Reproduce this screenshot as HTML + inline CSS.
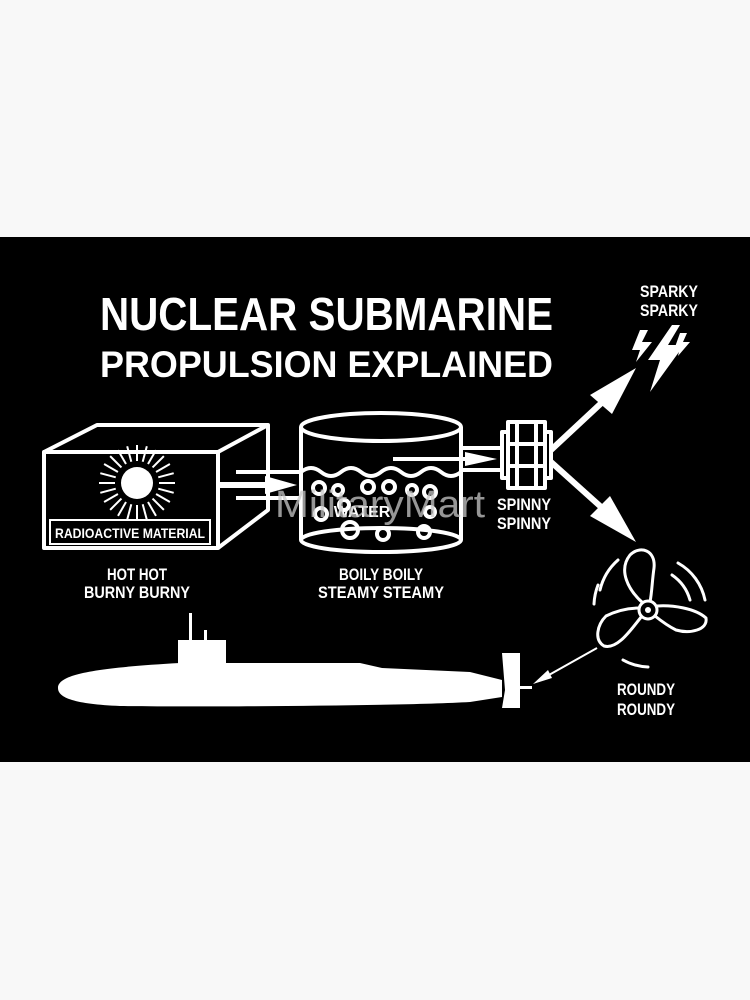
<!DOCTYPE html>
<html><head><meta charset="utf-8"><style>
html,body{margin:0;padding:0;background:#f8f8f8;width:750px;height:1000px;overflow:hidden}
svg{display:block}
text{font-family:"Liberation Sans Narrow","Liberation Sans",sans-serif;font-weight:bold;fill:#fff}
</style></head><body>
<svg width="750" height="1000" viewBox="0 0 750 1000">
<rect x="0" y="237" width="750" height="525" fill="#000"/>
<text x="100" y="330" font-size="46" textLength="453" lengthAdjust="spacingAndGlyphs">NUCLEAR SUBMARINE</text>
<text x="100" y="377" font-size="37" textLength="453" lengthAdjust="spacingAndGlyphs">PROPULSION EXPLAINED</text>
<g fill="none" stroke="#fff" stroke-width="4" stroke-linejoin="round">
<rect x="44" y="452" width="174" height="96"/>
<polyline points="44,452 97,425 268,425 218,452"/>
<polyline points="268,425 268,510 218,548"/>
<path d="M236,472 H302 M236,498 H302"/>
<ellipse cx="381" cy="427" rx="80" ry="14"/>
<path d="M301,427 V540 A80,12 0 0 0 461,540 V427"/>
<path d="M301,472 q10,-8 20,0 t20,0 t20,0 t20,0 t20,0 t20,0 t20,0 t20,0"/>
<path d="M301,540 A80,12 0 0 1 461,540"/>
<path d="M461,448 H502 M461,470 H502"/>
<rect x="508" y="422" width="37" height="66"/>
<rect x="502" y="432" width="6" height="46"/>
<rect x="545" y="432" width="6" height="46"/>
<path d="M517,422 V488 M536,422 V488 M508,444 H545 M508,466 H545"/>
<g stroke-width="4">
<circle cx="319" cy="488" r="6"/><circle cx="338" cy="490" r="5"/><circle cx="368" cy="487" r="6"/><circle cx="389" cy="487" r="6"/><circle cx="412" cy="490" r="5"/><circle cx="430" cy="492" r="6"/>
<circle cx="321" cy="514" r="6"/><circle cx="344" cy="505" r="5"/><circle cx="430" cy="512" r="5"/><circle cx="350" cy="530" r="8"/><circle cx="383" cy="534" r="6"/><circle cx="424" cy="532" r="6"/>
</g>
<g stroke-width="3" stroke-linecap="round">
<path d="M600,590 A58,58 0 0 1 618,560"/>
<path d="M594,604 A60,60 0 0 1 598,585"/>
<path d="M678,563 A55,55 0 0 1 705,600"/>
<path d="M672,575 A45,45 0 0 1 690,600"/>
<path d="M623,660 A55,55 0 0 0 648,667"/>
</g>
<g stroke-width="3">
<path d="M643,603 C628,590 618,570 630,555 C640,545 656,550 654,568 C652,582 652,592 650,602"/>
<path d="M657,606 C672,605 695,608 706,618 C708,630 690,634 676,630 C668,626 660,620 655,616"/>
<path d="M642,616 C632,628 618,650 604,646 C594,640 597,625 606,616 C618,610 630,608 640,608"/>
<circle cx="648" cy="610" r="9"/>
</g>
</g>
<circle cx="648" cy="610" r="3" fill="#fff"/>
<g transform="translate(137,483)" stroke="#fff" stroke-width="2">
<line x1="0" y1="-22" x2="0" y2="-38"/><line x1="0" y1="22" x2="0" y2="38"/>
<line x1="22" y1="0" x2="38" y2="0"/><line x1="-22" y1="0" x2="-38" y2="0"/>
<g transform="rotate(15)"><line x1="0" y1="-22" x2="0" y2="-38"/><line x1="0" y1="22" x2="0" y2="38"/><line x1="22" y1="0" x2="38" y2="0"/><line x1="-22" y1="0" x2="-38" y2="0"/></g>
<g transform="rotate(30)"><line x1="0" y1="-22" x2="0" y2="-38"/><line x1="0" y1="22" x2="0" y2="38"/><line x1="22" y1="0" x2="38" y2="0"/><line x1="-22" y1="0" x2="-38" y2="0"/></g>
<g transform="rotate(45)"><line x1="0" y1="-22" x2="0" y2="-38"/><line x1="0" y1="22" x2="0" y2="38"/><line x1="22" y1="0" x2="38" y2="0"/><line x1="-22" y1="0" x2="-38" y2="0"/></g>
<g transform="rotate(60)"><line x1="0" y1="-22" x2="0" y2="-38"/><line x1="0" y1="22" x2="0" y2="38"/><line x1="22" y1="0" x2="38" y2="0"/><line x1="-22" y1="0" x2="-38" y2="0"/></g>
<g transform="rotate(75)"><line x1="0" y1="-22" x2="0" y2="-38"/><line x1="0" y1="22" x2="0" y2="38"/><line x1="22" y1="0" x2="38" y2="0"/><line x1="-22" y1="0" x2="-38" y2="0"/></g>
</g>
<circle cx="137" cy="483" r="16" fill="#fff"/>
<rect x="50" y="520" width="160" height="24" fill="none" stroke="#fff" stroke-width="2"/>
<text x="130" y="538" font-size="14" text-anchor="middle" textLength="150" lengthAdjust="spacingAndGlyphs">RADIOACTIVE  MATERIAL</text>
<line x1="220" y1="485" x2="270" y2="485" stroke="#fff" stroke-width="6"/>
<polygon points="265,476 297,485 265,494" fill="#fff"/>
<line x1="393" y1="459" x2="470" y2="459" stroke="#fff" stroke-width="4"/>
<polygon points="465,452 497,459 465,466" fill="#fff"/>
<line x1="551" y1="450" x2="610" y2="395" stroke="#fff" stroke-width="6"/>
<polygon points="590,395 636,368 612,414" fill="#fff"/>
<line x1="551" y1="462" x2="610" y2="515" stroke="#fff" stroke-width="6"/>
<polygon points="590,516 636,542 610,496" fill="#fff"/>
<line x1="597" y1="648" x2="540" y2="680" stroke="#fff" stroke-width="2"/>
<polygon points="533,684 548,670 552,678" fill="#fff"/>
<polygon points="672,325 680,325 668,345 684,345 650,392 660,360 648,360" fill="#fff"/>
<polygon points="640,330 648,330 642,342 652,342 636,362 640,350 632,350" fill="#fff"/>
<polygon points="680,333 687,333 683,342 690,342 678,356 680,347 675,347" fill="#fff"/>
<path d="M58,688 C58,675 90,668 180,663 L360,663 L382,668 L470,672 L502,680 L502,697 L470,702 C400,706 200,707 120,706 C75,704 58,698 58,688 Z" fill="#fff"/>
<rect x="178" y="640" width="48" height="25" fill="#fff"/>
<rect x="189" y="613" width="3" height="28" fill="#fff"/>
<rect x="204" y="630" width="3" height="12" fill="#fff"/>
<polygon points="502,653 520,653 520,708 502,708 505,690" fill="#fff"/>
<rect x="520" y="686" width="12" height="3" fill="#fff"/>
<g font-size="17" text-anchor="middle">
<text x="137" y="580" textLength="60" lengthAdjust="spacingAndGlyphs">HOT HOT</text>
<text x="137" y="598" textLength="106" lengthAdjust="spacingAndGlyphs">BURNY BURNY</text>
<text x="381" y="580" textLength="84" lengthAdjust="spacingAndGlyphs">BOILY BOILY</text>
<text x="381" y="598" textLength="126" lengthAdjust="spacingAndGlyphs">STEAMY STEAMY</text>
<text x="524" y="510" textLength="54" lengthAdjust="spacingAndGlyphs">SPINNY</text>
<text x="524" y="529" textLength="54" lengthAdjust="spacingAndGlyphs">SPINNY</text>
<text x="669" y="297" textLength="58" lengthAdjust="spacingAndGlyphs">SPARKY</text>
<text x="669" y="316" textLength="58" lengthAdjust="spacingAndGlyphs">SPARKY</text>
<text x="646" y="695" textLength="58" lengthAdjust="spacingAndGlyphs">ROUNDY</text>
<text x="646" y="715" textLength="58" lengthAdjust="spacingAndGlyphs">ROUNDY</text>
</g>
<text x="362" y="517" font-size="16" text-anchor="middle">WATER</text>
<text x="380" y="517" font-size="38" text-anchor="middle" style="fill:rgba(200,200,200,0.75);font-weight:normal;font-family:'Liberation Sans',sans-serif" textLength="210" lengthAdjust="spacingAndGlyphs">MilitaryMart</text>
</svg>
</body></html>
